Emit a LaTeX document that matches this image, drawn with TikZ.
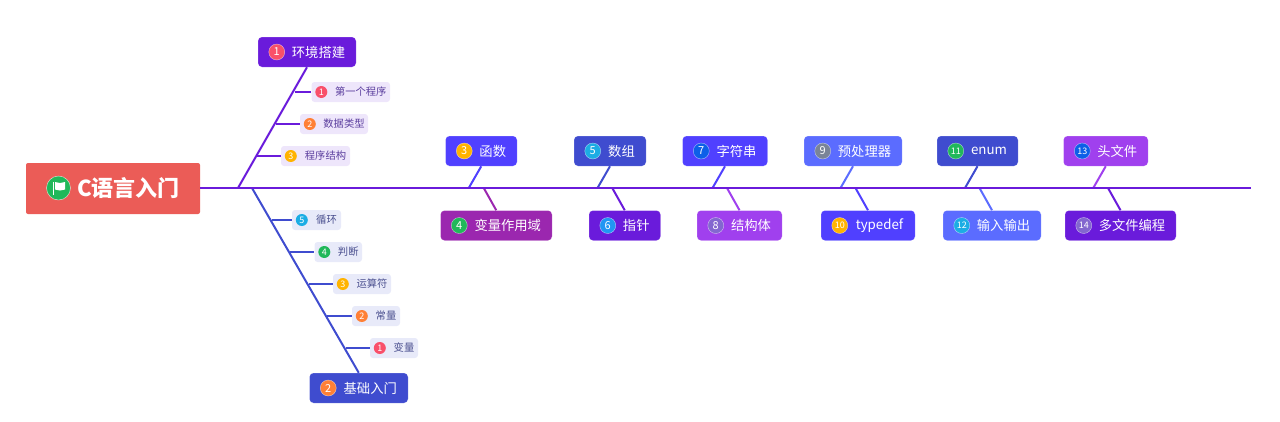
\documentclass[tikz,border=0pt]{standalone}
\usepackage{fontspec}
\setmainfont{Noto Sans CJK SC}
\definecolor{rootred}{HTML}{EB5C57}
\definecolor{violet1}{HTML}{6A1BDB}
\definecolor{indigo1}{HTML}{3F4CCF}
\definecolor{blue1}{HTML}{5040FF}
\definecolor{blue2}{HTML}{5B6CFF}
\definecolor{plum1}{HTML}{9B27AF}
\definecolor{lilac1}{HTML}{A040EE}
\definecolor{subviolet}{HTML}{EEE6FB}
\definecolor{subindigo}{HTML}{E8EAF9}
\definecolor{textviolet}{HTML}{5B3E9E}
\definecolor{textindigo}{HTML}{4A4F8F}
\definecolor{dotred}{HTML}{F9506A}
\definecolor{dotorange}{HTML}{FF8036}
\definecolor{dotyellow}{HTML}{FFB300}
\definecolor{dotgreen}{HTML}{21B85A}
\definecolor{dotcyan}{HTML}{1CADE4}
\definecolor{dotblue}{HTML}{2196F3}
\definecolor{dotnavy}{HTML}{0D5FE8}
\definecolor{dotgray}{HTML}{7A8498}
\definecolor{dotmauve}{HTML}{8367CF}
\tikzset{
  topicbox/.style={rounded corners=4pt,inner sep=0pt,minimum height=30pt,text=white,
    font=\fontsize{13.3}{16}\selectfont,draw=white,draw opacity=.25,line width=.5pt},
  subbox/.style={rounded corners=3pt,inner sep=0pt,minimum height=20pt,
    font=\fontsize{10.3}{12}\selectfont},
  topicdot/.style={circle,inner sep=0pt,minimum size=16pt,draw=white,draw opacity=.6,line width=.4pt,
    text=white,font=\fontsize{11}{12}\selectfont},
  subdot/.style={circle,inner sep=0pt,minimum size=12pt,text=white,font=\fontsize{9}{10}\selectfont},
  topicline/.style={line width=2pt},
  subline/.style={line width=1.2pt}
}
\newcommand{\dotnum}[1]{\ifnum#1>9 \fontsize{9}{10}\selectfont\fi#1}
\begin{document}
\begin{tikzpicture}[x=1pt,y=-1pt]
\useasboundingbox (0,0) rectangle (1280,421);
% Root
\node[rounded corners=2pt,fill=rootred,text=white,inner sep=0pt,minimum width=174pt,minimum height=51pt,
  font=\fontsize{22}{26}\bfseries] (root) at (113,188.5) {\hspace{31pt}C语言入门};
\node[topicdot,minimum size=24pt,fill=dotgreen,draw opacity=.8] (flag) at (58.5,188) {};
\fill[white] (53,182) rectangle (54.2,195);
\fill[white] (55,182) -- (60,183) -- (65,182) -- (65,189.5) -- (60,190.5) -- (55,189.5) -- cycle;

% Topics on the spine: id, x, width, colour, dot, number, text
\foreach \id/\cx/\bw/\col/\dotc/\num/\txt in {
    3/481.25/71.5/blue1/dotyellow/3/函数,
    5/610/72/indigo1/dotcyan/5/数组,
    7/725/85/blue1/dotnavy/7/字符串,
    9/853/98/blue2/dotgray/9/预处理器,
    11/977.5/81/indigo1/dotgreen/11/enum,
    13/1105.75/84.5/lilac1/dotnavy/13/头文件} {
    \node[topicbox,fill=\col,minimum width=\bw pt] (topic\id) at (\cx,151) {\hspace{23pt}\txt};
    \node[topicdot,fill=\dotc] (dot\id) at ([xshift=19pt]topic\id.west) {\dotnum{\num}};
    \coordinate (foot\id) at (\cx-12.5,188);
    \draw[topicline,\col] (topic\id.south) -- (foot\id);
}
\foreach \id/\cx/\bw/\col/\dotc/\num/\txt in {
    4/496.25/111.5/plum1/dotgreen/4/变量作用域,
    6/624.75/71.5/violet1/dotblue/6/指针,
    8/739.5/85/lilac1/dotmauve/8/结构体,
    10/868/94/blue1/dotyellow/10/typedef,
    12/992/98/blue2/dotcyan/12/输入输出,
    14/1120.5/111/violet1/dotmauve/14/多文件编程} {
    \node[topicbox,fill=\col,minimum width=\bw pt] (topic\id) at (\cx,225.5) {\hspace{23pt}\txt};
    \node[topicdot,fill=\dotc] (dot\id) at ([xshift=19pt]topic\id.west) {\dotnum{\num}};
    \coordinate (foot\id) at (\cx-12.5,188);
    \draw[topicline,\col] (topic\id.north) -- (foot\id);
}

% Two big branches
\node[topicbox,fill=violet1,minimum width=98pt] (topic1) at (307,52) {\hspace{23pt}环境搭建};
\node[topicdot,fill=dotred] (dot1) at ([xshift=19pt]topic1.west) {1};
\coordinate (foot1) at (238,188);
\draw[topicline,violet1] (topic1.south) -- (foot1);
\node[topicbox,fill=indigo1,minimum width=98.5pt] (topic2) at (358.75,388) {\hspace{23pt}基础入门};
\node[topicdot,fill=dotorange] (dot2) at ([xshift=19pt]topic2.west) {2};
\coordinate (foot2) at (252,188);
\draw[topicline,indigo1] (topic2.north) -- (foot2);

% Sub items: id, x, y, width, dot, number, branch x, text
\foreach \id/\cx/\cy/\bw/\dotc/\num/\bx/\txt in {
    a/350.75/92/78.5/dotred/1/294.5/第一个程序,
    b/334/124/68/dotorange/2/276/数据类型,
    c/315.5/156/69/dotyellow/3/257/程序结构} {
    \node[subbox,fill=subviolet,text=textviolet,minimum width=\bw pt] (sub\id) at (\cx,\cy) {\hspace{20pt}\txt};
    \node[subdot,fill=\dotc] (subdot\id) at ([xshift=10pt]sub\id.west) {\num};
    \coordinate (joint\id) at (\bx,\cy);
    \draw[subline,violet1] (joint\id) -- (sub\id.west);
}
\foreach \id/\cx/\cy/\bw/\dotc/\num/\bx/\txt in {
    d/316.5/220/49/dotcyan/5/271.5/循环,
    e/338.25/252/47.5/dotgreen/4/290/判断,
    f/362/284/58/dotyellow/3/308.5/运算符,
    g/376/316/48/dotorange/2/327/常量,
    h/394/348/48/dotred/1/345.5/变量} {
    \node[subbox,fill=subindigo,text=textindigo,minimum width=\bw pt] (sub\id) at (\cx,\cy) {\hspace{20pt}\txt};
    \node[subdot,fill=\dotc] (subdot\id) at ([xshift=10pt]sub\id.west) {\num};
    \coordinate (joint\id) at (\bx,\cy);
    \draw[subline,indigo1] (joint\id) -- (sub\id.west);
}

% Spine
\coordinate (tail) at (1251,188);
\draw[topicline,violet1] (root.east |- tail) -- (tail);
\end{tikzpicture}
\end{document}
